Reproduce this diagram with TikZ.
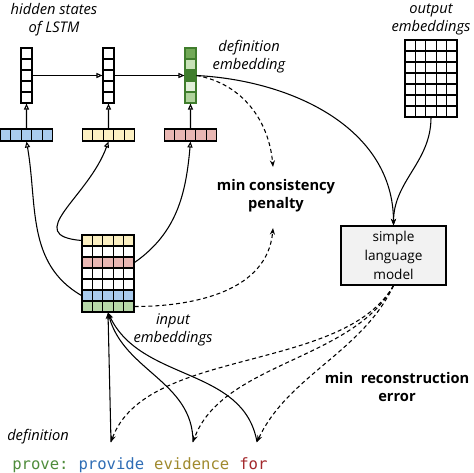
\documentclass[tikz,border=0pt]{standalone}
\usepackage{fontspec}
\setmainfont{Open Sans}
\setsansfont{Open Sans}
\setmonofont{DejaVu Sans Mono}
\usetikzlibrary{arrows.meta, positioning}

\definecolor{cblue}{HTML}{A9CBEE}
\definecolor{cyellow}{HTML}{FCF0C2}
\definecolor{cred}{HTML}{E9B7B3}
\definecolor{cgreen}{HTML}{B6D7A8}
\definecolor{gdark}{HTML}{3F7D2C}
\definecolor{gmid}{HTML}{72A957}
\definecolor{glight}{HTML}{C8E2B7}
\definecolor{gpale}{HTML}{E2F0D9}
\definecolor{gsoft}{HTML}{B0D39C}
\definecolor{wgreen}{HTML}{4F8C3B}
\definecolor{wblue}{HTML}{2F6DB5}
\definecolor{wgold}{HTML}{A08A2E}
\definecolor{wred}{HTML}{A3282C}

\newcommand{\txtsize}{\fontsize{11pt}{13.6pt}\selectfont}
\newcommand{\boxsize}{\fontsize{10.2pt}{14.2pt}\selectfont}
\tikzstyle{hcell} = [draw, line width=0.8pt, minimum width=8.25pt, minimum height=8.25pt, inner sep=0pt]
\tikzstyle{vcell} = [draw, line width=0.8pt, minimum width=7.8pt, minimum height=9pt, inner sep=0pt]
\tikzstyle{mcell} = [draw, line width=0.8pt, minimum width=7.8pt, minimum height=8.25pt, inner sep=0pt]
\tikzstyle{lstm} = [line width=0.8pt, -{Triangle[open, length=4.5pt, width=3.8pt]}]
\tikzstyle{arrow} = [line width=0.8pt, -{Stealth[length=5pt, width=3.8pt]}]
\tikzstyle{dasharrow} = [arrow, dash pattern=on 3pt off 2.2pt]
\tikzstyle{lbltext} = [font=\txtsize\itshape, align=center, inner sep=0pt]
\tikzstyle{loss} = [font=\txtsize\bfseries, align=center, inner sep=0pt]
\tikzstyle{word} = [inner sep=0pt, font=\ttfamily\fontsize{11.7pt}{14pt}\selectfont]

\begin{document}
\begin{tikzpicture}[x=0.75pt, y=0.75pt]
	\useasboundingbox (0,0) rectangle (474,-472);

	% hidden states
	\foreach \x [count=\k] in {26.5,108.5}
		\foreach \i in {0,...,4}
			\node[hcell] (h\k-\i) at (\x,-53.5-11*\i) {};
	\foreach \i/\c in {0/gmid,1/glight,2/gdark,3/gpale,4/gsoft}
		\node[hcell, draw=gdark, fill=\c] (h3-\i) at (190.5,-53.5-11*\i) {};

	% word vectors
	\foreach \x/\c [count=\k] in {26.5/cblue,108.5/cyellow,190.5/cred}
		\foreach \i in {0,...,4}
			\node[vcell, fill=\c] (v\k-\i) at (\x+10.4*\i-20.8,-135) {};

	% input embeddings
	\foreach \c [count=\j from 0] in {cyellow,white,cred,white,white,cblue,cgreen}
		\foreach \i in {0,...,4}
			\node[mcell, fill=\c] (m\j-\i) at (108+10.4*\i-20.8,-240.5-11*\j) {};

	% output embeddings
	\foreach \j in {0,...,6}
		\foreach \i in {0,...,4}
			\node[mcell] (o\j-\i) at (431+10.4*\i-20.8,-45.5-11*\j) {};

	\node[draw, line width=0.8pt, fill=gray!10, minimum width=78.75pt, minimum height=44.25pt, align=center, inner sep=2pt, font=\boxsize] (lm) at (393.5,-255.5) {simple\\language\\model};

	% labels
	\node[lbltext] (hidlbl) at (54,-20) {hidden states\\of LSTM};
	\node[lbltext] (outlbl) at (431,-19) {output\\embeddings};
	\node[lbltext] (deflbl) at (249,-57) {definition\\embedding};
	\node[loss] (penalty) at (276,-196) {min consistency\\penalty};
	\node[lbltext] (inlbl) at (173,-330) {input\\embeddings};
	\node[loss] (recon) at (397,-387) {min\ \ reconstruction\\error};
	\node[lbltext, anchor=west] (sentlbl) at (7,-437) {definition};

	% sentence
	\node[word, text=wgreen, anchor=base west] (wprove) at (12,-469) {prove:};
	\node[word, text=wblue, base right=7.04pt of wprove] (wprovide) {provide};
	\node[word, text=wgold, base right=7.04pt of wprovide] (wevidence) {evidence};
	\node[word, text=wred, base right=7.04pt of wevidence] (wfor) {for};
	\coordinate (t1) at (111,-442);
	\coordinate (t2) at (193,-442);
	\coordinate (t3) at (257,-442);
	\coordinate (pentop) at (273,-167);
	\coordinate (penbot) at (273,-228);

	% LSTM
	\draw[lstm] (h1-2.east) -- (h2-2.west);
	\draw[lstm] (h2-2.east) -- (h3-2.west);
	\draw[lstm] (v1-2.north) -- (h1-4.south);
	\draw[lstm] (v2-2.north) -- (h2-4.south);
	\draw[lstm] (v3-2.north) -- (h3-4.south);
	\draw[lstm] (m5-0.west) to[out=150, in=-80] (v1-2.south);
	\draw[lstm] (m0-0.west) to[out=175, in=-110, looseness=1.5] (v2-2.south);
	\draw[lstm] (m2-4.east) to[out=35, in=-95] (v3-2.south);

	% definition embedding
	\draw[arrow] (h3-2.east) to[out=-3, in=90] (lm.north);
	\draw[dasharrow] (h3-2.east) to[out=-10, in=95] (pentop);
	\draw[dasharrow] (m6-4.east) to[out=0, in=-95] (penbot);
	\draw[arrow] (o6-2.south) to[out=-90, in=90] (lm.north);

	% lookup and reconstruction
	\draw[arrow] (t1) -- (m6-2.south);
	\draw[arrow] (t2) to[out=90, in=-75] (m6-2.south);
	\draw[arrow] (t3) to[out=100, in=-65] (m6-2.south);
	\draw[dasharrow] (lm.south) to[out=-120, in=70, looseness=0.8] (t1);
	\draw[dasharrow] (lm.south) to[out=-118, in=70, looseness=0.85] (t2);
	\draw[dasharrow] (lm.south) to[out=-115, in=65, looseness=0.9] (t3);
\end{tikzpicture}
\end{document}
